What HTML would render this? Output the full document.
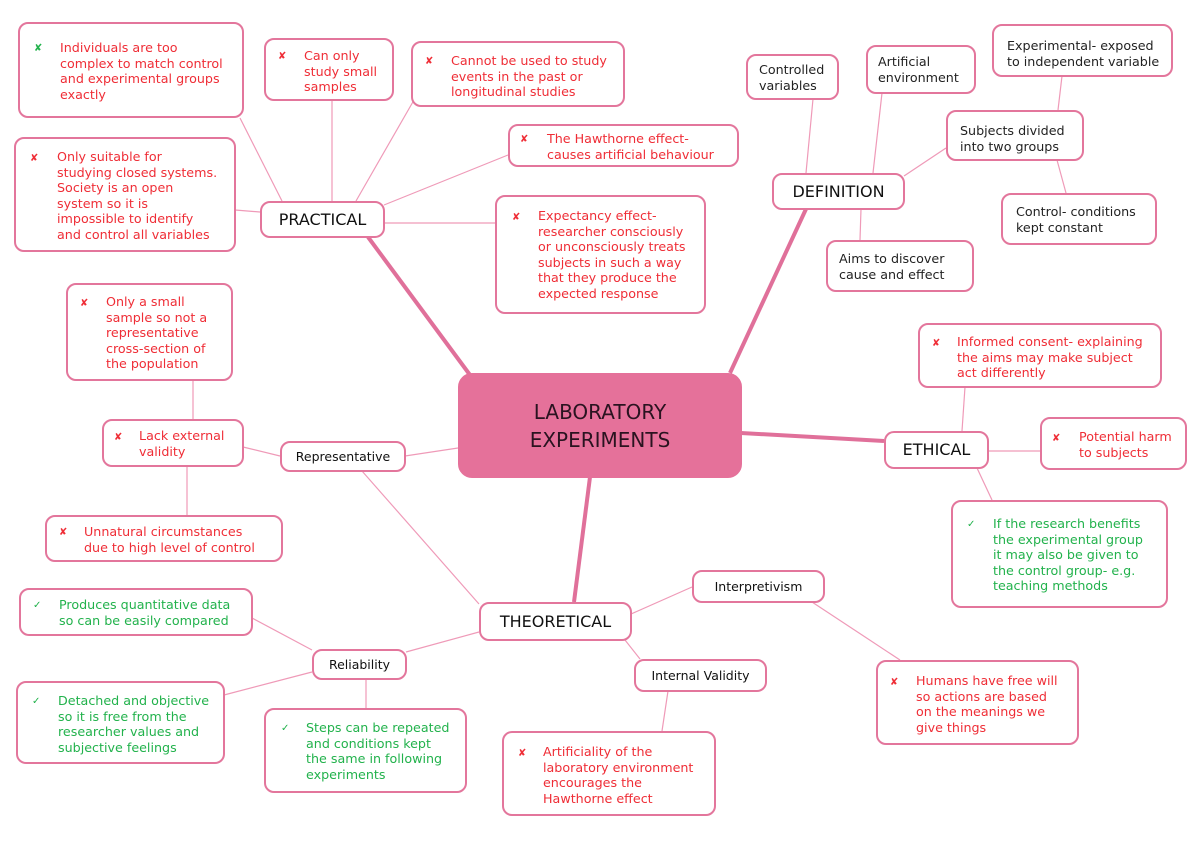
<!DOCTYPE html>
<html><head><meta charset="utf-8"><style>
body{margin:0;width:1200px;height:849px;background:#fff;position:relative;overflow:hidden;font-family:"DejaVu Sans","Liberation Sans",sans-serif;}
.b{position:absolute;box-sizing:border-box;border:2px solid #e3769c;border-radius:10px;background:#fff;font-size:12.7px;line-height:15.6px;color:#ef2d36;}
.b .t{position:absolute;white-space:nowrap;}
.b .m{position:absolute;font-size:10px;}
.g{color:#22b24c;}
.k{color:#222;}
.h{color:#111;font-size:16px;display:flex;align-items:center;justify-content:center;}
svg{position:absolute;left:0;top:0}
</style></head><body>
<svg width="1200" height="849">
<g stroke="#ef9ab8" stroke-width="1.2" fill="none">
<line x1="240" y1="118" x2="282" y2="201"/>
<line x1="332" y1="100" x2="332" y2="201"/>
<line x1="414" y1="100" x2="356" y2="201"/>
<line x1="508" y1="155" x2="384" y2="205"/>
<line x1="235" y1="210" x2="260" y2="212"/>
<line x1="495" y1="223" x2="384" y2="223"/>
<line x1="193" y1="380" x2="193" y2="419"/>
<line x1="243" y1="447" x2="280" y2="456"/>
<line x1="187" y1="515" x2="187" y2="466"/>
<line x1="405" y1="456" x2="458" y2="448"/>
<line x1="362" y1="471" x2="479" y2="604"/>
<line x1="813" y1="99" x2="806" y2="173"/>
<line x1="882" y1="93" x2="873" y2="173"/>
<line x1="946" y1="148" x2="904" y2="176"/>
<line x1="1062" y1="76" x2="1058" y2="110"/>
<line x1="1066" y1="193" x2="1057" y2="160"/>
<line x1="860" y1="240" x2="861" y2="209"/>
<line x1="965" y1="387" x2="962" y2="431"/>
<line x1="1040" y1="451" x2="988" y2="451"/>
<line x1="992" y1="500" x2="977" y2="468"/>
<line x1="692" y1="587" x2="631" y2="614"/>
<line x1="640" y1="659" x2="625" y2="640"/>
<line x1="812" y1="602" x2="900" y2="660"/>
<line x1="668" y1="691" x2="662" y2="731"/>
<line x1="479" y1="632" x2="406" y2="652"/>
<line x1="252" y1="618" x2="312" y2="650"/>
<line x1="224" y1="695" x2="312" y2="672"/>
<line x1="366" y1="708" x2="366" y2="679"/>
</g>
<g stroke="#e0709a" stroke-width="4" fill="none">
<line x1="368" y1="237" x2="470" y2="375"/>
<line x1="806" y1="209" x2="730" y2="373"/>
<line x1="741" y1="433" x2="884" y2="441"/>
<line x1="590" y1="477" x2="574" y2="602"/>
</g>
</svg>

<div class="b" style="left:18px;top:22px;width:226px;height:96px"><span class="m g" style="left:14px;top:17px">✘</span><span class="t" style="left:40px;top:16px">Individuals are too<br>complex to match control<br>and experimental groups<br>exactly</span></div>
<div class="b" style="left:264px;top:38px;width:130px;height:63px"><span class="m" style="left:12px;top:9px">✘</span><span class="t" style="left:38px;top:8px">Can only<br>study small<br>samples</span></div>
<div class="b" style="left:411px;top:41px;width:214px;height:66px"><span class="m" style="left:12px;top:11px">✘</span><span class="t" style="left:38px;top:10px">Cannot be used to study<br>events in the past or<br>longitudinal studies</span></div>
<div class="b" style="left:508px;top:124px;width:231px;height:43px"><span class="m" style="left:10px;top:6px">✘</span><span class="t" style="left:37px;top:5px">The Hawthorne effect-<br>causes artificial behaviour</span></div>
<div class="b" style="left:14px;top:137px;width:222px;height:115px"><span class="m" style="left:14px;top:12px">✘</span><span class="t" style="left:41px;top:10px">Only suitable for<br>studying closed systems.<br>Society is an open<br>system so it is<br>impossible to identify<br>and control all variables</span></div>
<div class="b h" style="left:260px;top:201px;width:125px;height:37px">PRACTICAL</div>
<div class="b" style="left:495px;top:195px;width:211px;height:119px"><span class="m" style="left:15px;top:13px">✘</span><span class="t" style="left:41px;top:11px">Expectancy effect-<br>researcher consciously<br>or unconsciously treats<br>subjects in such a way<br>that they produce the<br>expected response</span></div>
<div class="b" style="left:66px;top:283px;width:167px;height:98px"><span class="m" style="left:12px;top:11px">✘</span><span class="t" style="left:38px;top:9px">Only a small<br>sample so not a<br>representative<br>cross-section of<br>the population</span></div>
<div class="b" style="left:102px;top:419px;width:142px;height:48px"><span class="m" style="left:10px;top:9px">✘</span><span class="t" style="left:35px;top:7px">Lack external<br>validity</span></div>
<div class="b h k" style="left:280px;top:441px;width:126px;height:31px;font-size:12.5px">Representative</div>
<div class="b" style="left:45px;top:515px;width:238px;height:47px"><span class="m" style="left:12px;top:8px">✘</span><span class="t" style="left:37px;top:7px">Unnatural circumstances<br>due to high level of control</span></div>
<div class="b" style="left:458px;top:373px;width:284px;height:105px;background:#e5719a;border-color:#e5719a;border-radius:14px;color:#2a1320;font-size:20px;line-height:28px;display:flex;align-items:center;justify-content:center;text-align:center">LABORATORY<br>EXPERIMENTS</div>

<div class="b k" style="left:746px;top:54px;width:93px;height:46px"><span class="t" style="left:11px;top:6px">Controlled<br>variables</span></div>
<div class="b k" style="left:866px;top:45px;width:110px;height:49px"><span class="t" style="left:10px;top:7px">Artificial<br>environment</span></div>
<div class="b k" style="left:992px;top:24px;width:181px;height:53px"><span class="t" style="left:13px;top:12px">Experimental- exposed<br>to independent variable</span></div>
<div class="b k" style="left:946px;top:110px;width:138px;height:51px"><span class="t" style="left:12px;top:11px">Subjects divided<br>into two groups</span></div>
<div class="b h" style="left:772px;top:173px;width:133px;height:37px">DEFINITION</div>
<div class="b k" style="left:1001px;top:193px;width:156px;height:52px"><span class="t" style="left:13px;top:9px">Control- conditions<br>kept constant</span></div>
<div class="b k" style="left:826px;top:240px;width:148px;height:52px"><span class="t" style="left:11px;top:9px">Aims to discover<br>cause and effect</span></div>

<div class="b" style="left:918px;top:323px;width:244px;height:65px"><span class="m" style="left:12px;top:11px">✘</span><span class="t" style="left:37px;top:9px">Informed consent- explaining<br>the aims may make subject<br>act differently</span></div>
<div class="b h" style="left:884px;top:431px;width:105px;height:38px">ETHICAL</div>
<div class="b" style="left:1040px;top:417px;width:147px;height:53px"><span class="m" style="left:10px;top:12px">✘</span><span class="t" style="left:37px;top:10px">Potential harm<br>to subjects</span></div>
<div class="b g" style="left:951px;top:500px;width:217px;height:108px"><span class="m" style="left:14px;top:15px">✓</span><span class="t" style="left:40px;top:14px">If the research benefits<br>the experimental group<br>it may also be given to<br>the control group- e.g.<br>teaching methods</span></div>

<div class="b h k" style="left:692px;top:570px;width:133px;height:33px;font-size:12.5px">Interpretivism</div>
<div class="b h" style="left:479px;top:602px;width:153px;height:39px">THEORETICAL</div>
<div class="b h k" style="left:634px;top:659px;width:133px;height:33px;font-size:12.5px">Internal Validity</div>
<div class="b" style="left:876px;top:660px;width:203px;height:85px"><span class="m" style="left:12px;top:13px">✘</span><span class="t" style="left:38px;top:11px">Humans have free will<br>so actions are based<br>on the meanings we<br>give things</span></div>
<div class="b g" style="left:19px;top:588px;width:234px;height:48px"><span class="m" style="left:12px;top:8px">✓</span><span class="t" style="left:38px;top:7px">Produces quantitative data<br>so can be easily compared</span></div>
<div class="b h k" style="left:312px;top:649px;width:95px;height:31px;font-size:12.5px">Reliability</div>
<div class="b g" style="left:16px;top:681px;width:209px;height:83px"><span class="m" style="left:14px;top:11px">✓</span><span class="t" style="left:40px;top:10px">Detached and objective<br>so it is free from the<br>researcher values and<br>subjective feelings</span></div>
<div class="b g" style="left:264px;top:708px;width:203px;height:85px"><span class="m" style="left:15px;top:11px">✓</span><span class="t" style="left:40px;top:10px">Steps can be repeated<br>and conditions kept<br>the same in following<br>experiments</span></div>
<div class="b" style="left:502px;top:731px;width:214px;height:85px"><span class="m" style="left:14px;top:13px">✘</span><span class="t" style="left:39px;top:11px">Artificiality of the<br>laboratory environment<br>encourages the<br>Hawthorne effect</span></div>
</body></html>
